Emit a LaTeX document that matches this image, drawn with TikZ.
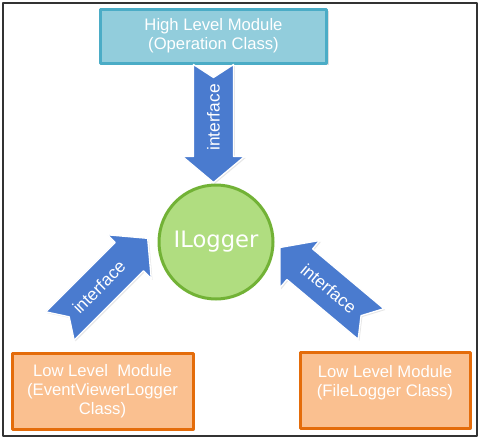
\documentclass[tikz,border=0pt]{standalone}
\usepackage{fontspec}
\setmainfont{Liberation Sans}
\newfontfamily\logfont{DejaVu Sans}
\usetikzlibrary{shadows}

\definecolor{hlfill}{HTML}{92CDDC}
\definecolor{hlline}{HTML}{4BACC6}
\definecolor{llfill}{HTML}{FAC090}
\definecolor{llline}{HTML}{E46C0A}
\definecolor{ilfill}{HTML}{B0DD80}
\definecolor{illine}{HTML}{72B236}
\definecolor{ifblue}{HTML}{4A7BCF}

\tikzset{
  module/.style={draw, line width=2.25pt, align=center, text=white, inner sep=0pt,
    font=\fontsize{12.5}{14.25}\selectfont,
    drop shadow={shadow xshift=1.5pt, shadow yshift=-1.5pt, opacity=0.25}},
  highmod/.style={module, fill=hlfill, draw=hlline, minimum width=170pt, minimum height=40.5pt},
  lowmod/.style={module, fill=llfill, draw=llline, minimum height=57pt},
  ifarrow/.style={fill=ifblue, draw=white, line width=1pt,
    drop shadow={shadow xshift=1pt, shadow yshift=-1pt, opacity=0.2}},
  iftext/.style={text=white, transform shape, font=\fontsize{13}{15}\selectfont}
}

\begin{document}
\begin{tikzpicture}[line cap=round,line join=round,x=0.75pt,y=-0.75pt]
\useasboundingbox (0,0) rectangle (500,439);

\draw [line width=1.2pt, black!80] (3,3) rectangle (477,436);

\node[highmod] (high) at (213.5,36) {High Level Module\\(Operation Class)};
\node[lowmod, minimum width=135.75pt] (evlog) at (102.5,391) {Low Level~ Module\\(EventViewerLogger\\Class)};
\node[lowmod, minimum width=127.5pt] (filelog) at (385,390) {Low Level Module\\(FileLogger Class)\\\mbox{}};

\node[circle, draw=illine, fill=ilfill, line width=2.25pt, minimum size=85.5pt, text=white,
  font=\logfont\fontsize{17}{20}\selectfont] (ilogger) at (216,242) {ILogger};

% top arrow
\begin{scope}[shift={(high.south)}, rotate=-90]
\filldraw [ifarrow] (0,-20) -- (92,-20) -- (92,-31) -- (118,0) -- (92,31) -- (92,20) -- (0,20) -- (13,0) -- cycle;
\node [iftext, rotate=180] (if1) at (53,0) {interface};
\end{scope}

% left arrow
\begin{scope}[shift={(60,326)}, rotate=45]
\filldraw [ifarrow] (0,-20) -- (98,-20) -- (98,-31) -- (124,0) -- (98,31) -- (98,20) -- (0,20) -- (13,0) -- cycle;
\node [iftext] (if2) at (55,0) {interface};
\end{scope}

% right arrow
\begin{scope}[shift={(371,324)}, rotate=140]
\filldraw [ifarrow] (0,-20) -- (93,-20) -- (93,-31) -- (119,0) -- (93,31) -- (93,20) -- (0,20) -- (13,0) -- cycle;
\node [iftext, rotate=180] (if3) at (55,0) {interface};
\end{scope}
\end{tikzpicture}
\end{document}
